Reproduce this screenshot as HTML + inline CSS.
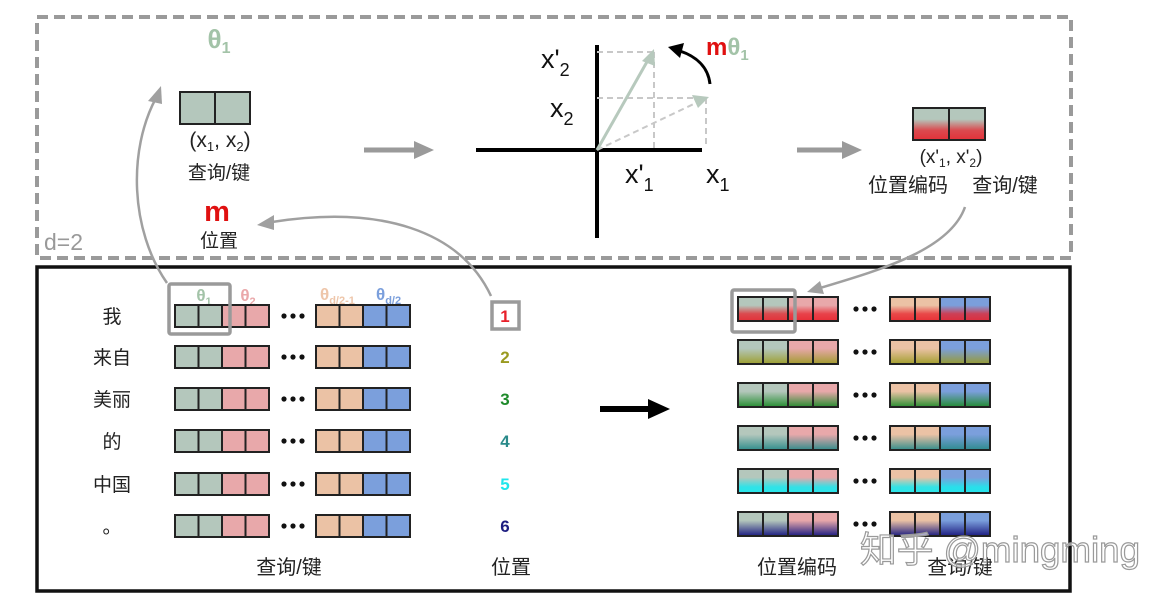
<!DOCTYPE html>
<html><head><meta charset="utf-8"><style>
html,body{margin:0;padding:0;background:#fff;}
svg{display:block;}
text{font-family:"Liberation Sans","DejaVu Sans","Noto Sans CJK SC",sans-serif;}
.cjk{font-family:"Liberation Sans","Noto Sans CJK SC",sans-serif;}
</style></head><body>
<svg width="1166" height="600" viewBox="0 0 1166 600" xmlns="http://www.w3.org/2000/svg">
<defs>
  <g id="gA">
    <rect x="0" y="0" width="23.5" height="22" fill="#b4c7bc"/>
    <rect x="23.5" y="0" width="23.5" height="22" fill="#b4c7bc"/>
    <rect x="47" y="0" width="23.5" height="22" fill="#e8a8aa"/>
    <rect x="70.5" y="0" width="23.5" height="22" fill="#e8a8aa"/>
  </g>
  <g id="gB">
    <rect x="0" y="0" width="23.5" height="22" fill="#ebc2a5"/>
    <rect x="23.5" y="0" width="23.5" height="22" fill="#ebc2a5"/>
    <rect x="47" y="0" width="23.5" height="22" fill="#7b9fdc"/>
    <rect x="70.5" y="0" width="23.5" height="22" fill="#7b9fdc"/>
  </g>
  <g id="grid" fill="none" stroke="#222" stroke-width="2">
    <rect x="0" y="0" width="94" height="22"/>
    <line x1="23.5" y1="0" x2="23.5" y2="22"/><line x1="47" y1="0" x2="47" y2="22"/><line x1="70.5" y1="0" x2="70.5" y2="22"/>
  </g>
  <g id="rA">
    <rect x="0" y="0" width="25" height="24" fill="#b4c7bc"/>
    <rect x="25" y="0" width="25" height="24" fill="#b4c7bc"/>
    <rect x="50" y="0" width="25" height="24" fill="#e8a8aa"/>
    <rect x="75" y="0" width="25" height="24" fill="#e8a8aa"/>
  </g>
  <g id="rB">
    <rect x="0" y="0" width="25" height="24" fill="#ebc2a5"/>
    <rect x="25" y="0" width="25" height="24" fill="#ebc2a5"/>
    <rect x="50" y="0" width="25" height="24" fill="#7b9fdc"/>
    <rect x="75" y="0" width="25" height="24" fill="#7b9fdc"/>
  </g>
  <g id="rgrid" fill="none" stroke="#222" stroke-width="2">
    <rect x="0" y="0" width="100" height="24"/>
    <line x1="25" y1="0" x2="25" y2="24"/><line x1="50" y1="0" x2="50" y2="24"/><line x1="75" y1="0" x2="75" y2="24"/>
  </g>
  <g id="dots" fill="#111"><circle cx="0" cy="0" r="2.6"/><circle cx="9" cy="0" r="2.6"/><circle cx="18" cy="0" r="2.6"/></g>
  <linearGradient id="c1" x1="0" y1="0" x2="0" y2="1"><stop offset="0.35" stop-color="#e8202a" stop-opacity="0"/><stop offset="0.7" stop-color="#e8202a" stop-opacity="0.75"/><stop offset="1" stop-color="#e8202a" stop-opacity="0.9"/></linearGradient>
  <linearGradient id="c2" x1="0" y1="0" x2="0" y2="1"><stop offset="0.35" stop-color="#9a9a20" stop-opacity="0"/><stop offset="1" stop-color="#9a9a20" stop-opacity="0.9"/></linearGradient>
  <linearGradient id="c3" x1="0" y1="0" x2="0" y2="1"><stop offset="0.35" stop-color="#1e8a2a" stop-opacity="0"/><stop offset="1" stop-color="#1e8a2a" stop-opacity="0.95"/></linearGradient>
  <linearGradient id="c4" x1="0" y1="0" x2="0" y2="1"><stop offset="0.35" stop-color="#2a8a8a" stop-opacity="0"/><stop offset="1" stop-color="#2a8a8a" stop-opacity="0.95"/></linearGradient>
  <linearGradient id="c5" x1="0" y1="0" x2="0" y2="1"><stop offset="0.35" stop-color="#20e6ec" stop-opacity="0"/><stop offset="0.75" stop-color="#20e6ec" stop-opacity="0.9"/><stop offset="1" stop-color="#20e6ec" stop-opacity="0.95"/></linearGradient>
  <linearGradient id="c6" x1="0" y1="0" x2="0" y2="1"><stop offset="0.35" stop-color="#1c1c80" stop-opacity="0"/><stop offset="1" stop-color="#1c1c80" stop-opacity="1"/></linearGradient>
</defs>

<rect x="37" y="17" width="1034" height="241" fill="none" stroke="#9a9a9a" stroke-width="4" stroke-dasharray="11,6"/>
<rect x="37" y="267" width="1033" height="324" fill="none" stroke="#111" stroke-width="3.5"/>

<text x="219" y="48" font-size="26" font-weight="bold" fill="#a3c3a8" text-anchor="middle">θ<tspan font-size="16" dy="5">1</tspan></text>
<rect x="180" y="92" width="35" height="32" fill="#b4c7bc" stroke="#222" stroke-width="2"/>
<rect x="215" y="92" width="35" height="32" fill="#b4c7bc" stroke="#222" stroke-width="2"/>
<text x="220" y="147" font-size="21" fill="#222" text-anchor="middle">(x<tspan font-size="13" dy="4">1</tspan><tspan dy="-4">, x</tspan><tspan font-size="13" dy="4">2</tspan><tspan dy="-4">)</tspan></text>
<text x="219" y="179" font-size="19" fill="#222" text-anchor="middle" class="cjk">查询/键</text>
<text x="217" y="221" font-size="29" font-weight="bold" fill="#e01010" text-anchor="middle">m</text>
<text x="219" y="247" font-size="19" fill="#222" text-anchor="middle" class="cjk">位置</text>
<text x="44" y="250" font-size="23" fill="#999">d=2</text>

<line x1="364" y1="150" x2="418" y2="150" stroke="#9a9a9a" stroke-width="5"/>
<path d="M414,141 L434,150 L414,159 z" fill="#9a9a9a"/>

<line x1="476" y1="150" x2="702" y2="150" stroke="#000" stroke-width="4"/>
<line x1="597" y1="45" x2="597" y2="238" stroke="#000" stroke-width="4"/>
<g stroke="#c8c8c8" stroke-width="2" stroke-dasharray="6,4" fill="none">
  <line x1="597" y1="52" x2="654" y2="52"/><line x1="654" y1="52" x2="654" y2="148"/>
  <line x1="597" y1="98" x2="706" y2="98"/><line x1="706" y1="98" x2="706" y2="148"/>
  <line x1="597" y1="150" x2="700" y2="101"/>
</g>
<path d="M709,97 L692,95 L698,108 z" fill="#b7c9bd"/>
<line x1="597" y1="150" x2="648" y2="60" stroke="#b7c9bd" stroke-width="3"/>
<path d="M654,49 L642,61 L655,66 z" fill="#b7c9bd"/>
<path d="M710,84 C708,66 695,56 680,51" fill="none" stroke="#000" stroke-width="3"/>
<path d="M668,47 L684,43 L680,58 z" fill="#000"/>
<text x="706" y="55" font-size="24" font-weight="bold" fill="#e01010">m<tspan fill="#a3c3a8">θ</tspan><tspan fill="#a3c3a8" font-size="15" dy="5">1</tspan></text>
<text x="541" y="68" font-size="27" fill="#111">x'<tspan font-size="18" dy="8">2</tspan></text>
<text x="550" y="117" font-size="27" fill="#111">x<tspan font-size="18" dy="8">2</tspan></text>
<text x="625" y="183" font-size="27" fill="#111">x'<tspan font-size="18" dy="8">1</tspan></text>
<text x="706" y="183" font-size="27" fill="#111">x<tspan font-size="18" dy="8">1</tspan></text>

<line x1="797" y1="150" x2="846" y2="150" stroke="#9a9a9a" stroke-width="5"/>
<path d="M842,141 L862,150 L842,159 z" fill="#9a9a9a"/>

<rect x="913" y="108" width="72" height="32" fill="#b4c7bc"/>
<rect x="913" y="108" width="72" height="32" fill="url(#c1)"/>
<rect x="913" y="108" width="36" height="32" fill="none" stroke="#222" stroke-width="2"/>
<rect x="949" y="108" width="36" height="32" fill="none" stroke="#222" stroke-width="2"/>
<text x="951" y="163" font-size="19" fill="#222" text-anchor="middle">(x'<tspan font-size="12" dy="4">1</tspan><tspan dy="-4">, x'</tspan><tspan font-size="12" dy="4">2</tspan><tspan dy="-4">)</tspan></text>
<text x="908" y="192" font-size="20" fill="#222" text-anchor="middle" class="cjk">位置编码</text>
<text x="1005" y="192" font-size="20" fill="#222" text-anchor="middle" class="cjk">查询/键</text>

<path d="M167,283 C130,230 128,150 156,98" fill="none" stroke="#a0a0a0" stroke-width="2.5"/>
<path d="M161,86 L148,101 L162,104 z" fill="#a0a0a0"/>
<path d="M491,296 C460,230 380,205 272,222" fill="none" stroke="#a0a0a0" stroke-width="2.5"/>
<path d="M257,225 L274,215 L274,230 z" fill="#a0a0a0"/>
<path d="M965,207 C950,250 880,270 820,288" fill="none" stroke="#a0a0a0" stroke-width="2.5"/>
<path d="M807,292 L820,281 L824,294 z" fill="#a0a0a0"/>

<text x="204" y="301" font-size="17" font-weight="bold" fill="#a3c3a8" text-anchor="middle">θ<tspan font-size="11" dy="4">1</tspan></text>
<text x="248" y="301" font-size="17" font-weight="bold" fill="#eaa8aa" text-anchor="middle">θ<tspan font-size="11" dy="4">2</tspan></text>
<text x="320" y="300" font-size="17" font-weight="bold" fill="#eec6aa">θ<tspan font-size="11" dy="4">d/2-1</tspan></text>
<text x="376" y="300" font-size="17" font-weight="bold" fill="#7b9fdc">θ<tspan font-size="11" dy="4">d/2</tspan></text>

<g class="cjk" font-size="19" fill="#222" text-anchor="middle">
<text x="112" y="323">我</text>
<text x="112" y="364">来自</text>
<text x="112" y="406">美丽</text>
<text x="112" y="448">的</text>
<text x="112" y="491">中国</text>
<text x="112" y="533">。</text>
</g>
<g>
<use href="#gA" x="175" y="305"/><use href="#grid" x="175" y="305"/><use href="#dots" x="284" y="316"/><use href="#gB" x="316" y="305"/><use href="#grid" x="316" y="305"/>
<use href="#gA" x="175" y="346"/><use href="#grid" x="175" y="346"/><use href="#dots" x="284" y="357"/><use href="#gB" x="316" y="346"/><use href="#grid" x="316" y="346"/>
<use href="#gA" x="175" y="388"/><use href="#grid" x="175" y="388"/><use href="#dots" x="284" y="399"/><use href="#gB" x="316" y="388"/><use href="#grid" x="316" y="388"/>
<use href="#gA" x="175" y="430"/><use href="#grid" x="175" y="430"/><use href="#dots" x="284" y="441"/><use href="#gB" x="316" y="430"/><use href="#grid" x="316" y="430"/>
<use href="#gA" x="175" y="473"/><use href="#grid" x="175" y="473"/><use href="#dots" x="284" y="484"/><use href="#gB" x="316" y="473"/><use href="#grid" x="316" y="473"/>
<use href="#gA" x="175" y="515"/><use href="#grid" x="175" y="515"/><use href="#dots" x="284" y="526"/><use href="#gB" x="316" y="515"/><use href="#grid" x="316" y="515"/>
</g>
<rect x="169" y="284" width="61" height="50" fill="none" stroke="#9a9a9a" stroke-width="3.5" rx="2"/>

<rect x="492" y="302" width="27" height="27" fill="#fff" stroke="#9a9a9a" stroke-width="3.5"/>
<g font-size="17" font-weight="bold" text-anchor="middle">
<text x="505" y="322" fill="#e8202a">1</text>
<text x="505" y="363" fill="#9a9a20">2</text>
<text x="505" y="405" fill="#1e8a2a">3</text>
<text x="505" y="447" fill="#2a8a8a">4</text>
<text x="505" y="490" fill="#20e6ec">5</text>
<text x="505" y="532" fill="#1c1c80">6</text>
</g>

<line x1="600" y1="409" x2="652" y2="409" stroke="#000" stroke-width="6"/>
<path d="M648,399 L670,409 L648,419 z" fill="#000"/>

<g>
<use href="#rA" x="738" y="297"/><rect x="738" y="297" width="100" height="24" fill="url(#c1)"/><use href="#rgrid" x="738" y="297"/><use href="#dots" x="856" y="309"/><use href="#rB" x="890" y="297"/><rect x="890" y="297" width="100" height="24" fill="url(#c1)"/><use href="#rgrid" x="890" y="297"/>
<use href="#rA" x="738" y="340"/><rect x="738" y="340" width="100" height="24" fill="url(#c2)"/><use href="#rgrid" x="738" y="340"/><use href="#dots" x="856" y="352"/><use href="#rB" x="890" y="340"/><rect x="890" y="340" width="100" height="24" fill="url(#c2)"/><use href="#rgrid" x="890" y="340"/>
<use href="#rA" x="738" y="383"/><rect x="738" y="383" width="100" height="24" fill="url(#c3)"/><use href="#rgrid" x="738" y="383"/><use href="#dots" x="856" y="395"/><use href="#rB" x="890" y="383"/><rect x="890" y="383" width="100" height="24" fill="url(#c3)"/><use href="#rgrid" x="890" y="383"/>
<use href="#rA" x="738" y="426"/><rect x="738" y="426" width="100" height="24" fill="url(#c4)"/><use href="#rgrid" x="738" y="426"/><use href="#dots" x="856" y="438"/><use href="#rB" x="890" y="426"/><rect x="890" y="426" width="100" height="24" fill="url(#c4)"/><use href="#rgrid" x="890" y="426"/>
<use href="#rA" x="738" y="469"/><rect x="738" y="469" width="100" height="24" fill="url(#c5)"/><use href="#rgrid" x="738" y="469"/><use href="#dots" x="856" y="481"/><use href="#rB" x="890" y="469"/><rect x="890" y="469" width="100" height="24" fill="url(#c5)"/><use href="#rgrid" x="890" y="469"/>
<use href="#rA" x="738" y="512"/><rect x="738" y="512" width="100" height="24" fill="url(#c6)"/><use href="#rgrid" x="738" y="512"/><use href="#dots" x="856" y="524"/><use href="#rB" x="890" y="512"/><rect x="890" y="512" width="100" height="24" fill="url(#c6)"/><use href="#rgrid" x="890" y="512"/>
</g>
<rect x="732" y="290" width="63" height="42" fill="none" stroke="#9a9a9a" stroke-width="3.5" rx="2"/>

<g class="cjk" font-size="20" fill="#222" text-anchor="middle">
<text x="289" y="574">查询/键</text>
<text x="511" y="574">位置</text>
<text x="797" y="574">位置编码</text>
<text x="960" y="574">查询/键</text>
</g>

<text x="860" y="562" font-size="36" class="cjk" fill="#ffffff" fill-opacity="0.6" stroke="#9a9a9a" stroke-width="1.2" textLength="280" lengthAdjust="spacingAndGlyphs">知乎 @mingming</text>
</svg>
</body></html>
